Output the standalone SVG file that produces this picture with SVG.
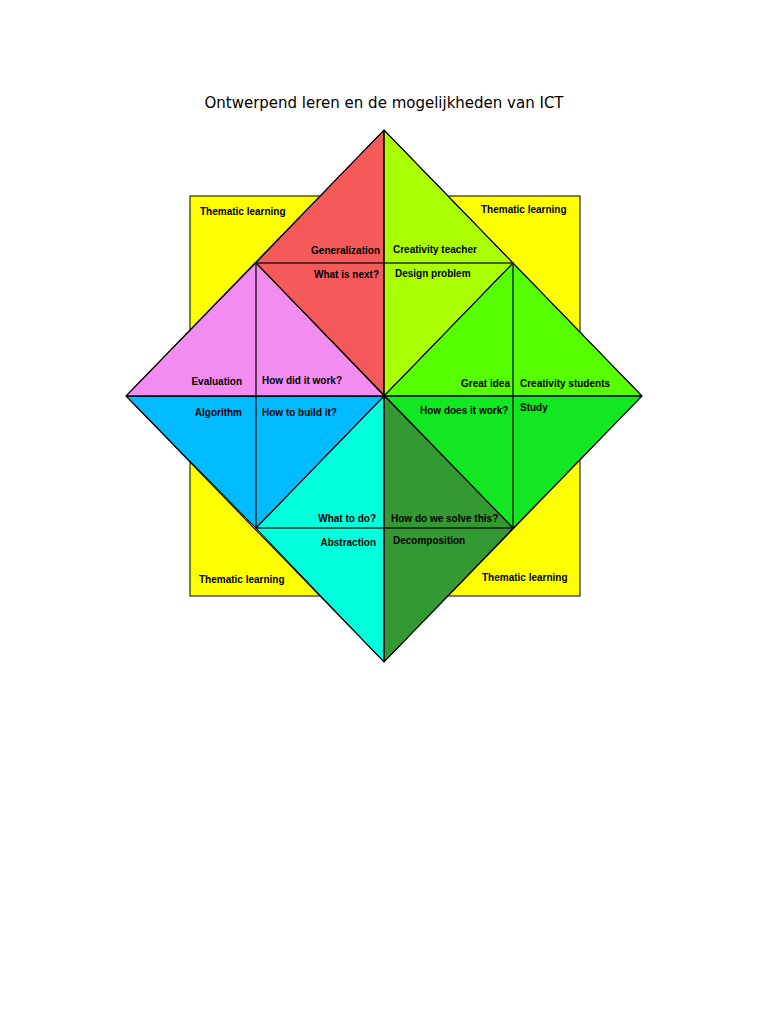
<svg xmlns="http://www.w3.org/2000/svg" width="768" height="1024" viewBox="0 0 768 1024">
<style>
text{font-family:"Liberation Sans",Arial,sans-serif;font-size:10px;font-weight:bold;fill:#000}
.t{font-family:"DejaVu Sans",sans-serif;font-size:15px;font-weight:normal}
.s{stroke:#000;stroke-width:1.2;fill:none}
.f{stroke:#000;stroke-width:1}
</style>
<rect width="768" height="1024" fill="#fff"/>
<text class="t" x="384" y="108" text-anchor="middle">Ontwerpend leren en de mogelijkheden van ICT</text>
<g id="yellow"><rect x="190" y="196" width="390" height="400" fill="#ffff00" class="f"/></g>
<g id="red"><polygon points="384,130 256,263 384,396" fill="#f55a5a" class="f"/></g>
<g id="lightgreen"><polygon points="384,130 513,263 384,396" fill="#aaff00" class="f"/></g>
<g id="greentop"><polygon points="513,263 642,396 384,396" fill="#55ff00" class="f"/></g>
<g id="greenbottom"><polygon points="384,396 642,396 513,528" fill="#11e822" class="f"/></g>
<g id="darkgreen"><polygon points="384,396 513,528 384,662" fill="#339933" class="f"/></g>
<g id="cyan"><polygon points="384,396 256,528 384,662" fill="#00ffdd" class="f"/></g>
<g id="blue"><polygon points="384,396 126,396 256,528" fill="#00bbff" class="f"/></g>
<g id="pink"><polygon points="384,396 126,396 256,263" fill="#f28cf0" class="f"/></g>
<g id="connectors">
<rect x="256" y="263" width="257" height="265" class="s"/>
<line x1="256" y1="263" x2="513" y2="528" class="s"/>
<line x1="513" y1="263" x2="256" y2="528" class="s"/>
<line x1="384" y1="130" x2="384" y2="662" class="s"/>
<line x1="126" y1="396" x2="642" y2="396" class="s"/>
<polygon points="384,130 642,396 384,662 126,396" class="s"/>
</g>
<g id="labels">
<text x="200" y="215">Thematic learning</text>
<text x="481" y="213">Thematic learning</text>
<text x="199" y="583">Thematic learning</text>
<text x="482" y="581">Thematic learning</text>
<text x="380" y="254" text-anchor="end">Generalization</text>
<text x="393" y="253">Creativity teacher</text>
<text x="379" y="278" text-anchor="end">What is next?</text>
<text x="395" y="277">Design problem</text>
<text x="242" y="385" text-anchor="end">Evaluation</text>
<text x="262" y="384">How did it work?</text>
<text x="242" y="416" text-anchor="end">Algorithm</text>
<text x="262" y="416">How to build it?</text>
<text x="510" y="387" text-anchor="end">Great idea</text>
<text x="520" y="387">Creativity students</text>
<text x="420" y="414">How does it work?</text>
<text x="520" y="411">Study</text>
<text x="376" y="522" text-anchor="end">What to do?</text>
<text x="391" y="522">How do we solve this?</text>
<text x="376" y="546" text-anchor="end">Abstraction</text>
<text x="393" y="544">Decomposition</text>
</g>
</svg>
